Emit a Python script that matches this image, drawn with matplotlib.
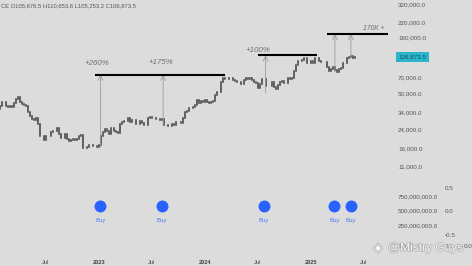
import numpy as np
import pandas as pd
import matplotlib
matplotlib.use('Agg')
import matplotlib.pyplot as plt
import matplotlib.dates as mdates
import matplotlib.patheffects as pe
from matplotlib.ticker import FixedLocator, NullLocator

plt.rcParams['font.family'] = ['Liberation Sans', 'DejaVu Sans']

W, H = 472, 266
BG = '#dcdcdc'

# weekly closes (thousand USD), weeks starting Monday 2022-01-24
close_2022 = [38.5, 42.4, 42.2, 38.4, 37.7, 38.8, 37.8, 41.3, 44.5, 46.4,
              42.2, 40.4, 39.5, 38.5, 34.0, 31.3, 29.4, 29.0, 29.9, 26.6,
              20.6, 21.0, 19.3, 20.8, 20.8, 22.6, 23.3, 23.2, 24.3, 21.5,
              20.0, 19.8, 21.8, 19.4, 18.8, 19.3, 19.4, 19.2, 19.6, 20.6,
              21.3, 16.3, 16.3, 16.5, 17.1, 17.1, 16.8, 16.8, 16.6]
close_2023 = [17.1, 20.9, 22.7, 23.8, 23.3, 21.8, 24.6, 23.2, 22.4, 22.0,
              26.9, 27.9, 28.5, 28.3, 30.3, 27.6, 29.2, 28.9, 26.8, 26.7,
              28.1, 27.1, 25.9, 26.3, 30.5, 30.6, 30.2, 30.3, 29.8, 29.3,
              29.1, 29.4, 26.1, 26.0, 25.8, 25.8, 26.5, 26.3, 28.0, 27.9,
              27.0, 30.0, 34.5, 35.0, 37.1, 37.4, 37.7, 39.5, 43.8, 41.4,
              43.0, 42.3]
close_2024 = [43.9, 41.7, 41.6, 42.0, 42.6, 48.3, 52.1, 51.7, 63.1, 68.9,
              68.4, 67.2, 69.7, 69.4, 65.7, 64.9, 63.4, 64.0, 60.8, 66.9,
              68.5, 67.8, 69.6, 66.2, 63.2, 62.7, 55.8, 60.8, 68.2, 68.3,
              58.1, 58.7, 58.4, 64.2, 57.3, 54.8, 60.0, 63.6, 65.6, 62.1,
              62.9, 69.0, 68.0, 68.7, 80.4, 89.9, 97.9, 97.5, 101.2, 104.5,
              95.2, 93.7, 98.3]
close_2025 = [94.5, 105.0, 104.8, 97.7, 96.5, 96.1, 96.3, 86.1, 80.7, 82.6,
              86.1, 82.4, 78.4, 83.7, 85.1, 93.8, 94.3, 104.6, 106.5, 109.0,
              104.6, 105.7, 106.8735]
first_open = 36.3

price_ticks = [320000, 220000, 160000, 70000, 50000, 34000, 24000, 16000, 11000]
last_price = 106873.5
header = 'CE O105,676.5 H110,653.6 L105,253.2 C106,873.5'

level_start = ['2022-12-18', '2024-07-02', '2025-02-24']
level_end = ['2024-03-10', '2025-01-21', '2025-09-23']
level_price = [74000, 110200, 171900]

gain_text = ['+260%', '+175%', '+100%', '170K +']
gain_date = ['2022-12-25', '2023-08-01', '2024-07-02', '2025-08-05']
gain_price = [92400, 94300, 123400, 190700]
gain_size = [5.7, 5.7, 5.7, 4.9]

arrow_dates = ['2023-01-06', '2023-08-10', '2024-07-28', '2025-03-24', '2025-05-18']
arrow_from = [16600, 25600, 50700, 78400, 104600]
arrow_level = [0, 0, 1, 2, 2]

buy_dates = ['2023-01-06', '2023-08-06', '2024-07-21', '2025-03-22', '2025-05-17']
buy_level = 0.12

vol_ticks = [750e6, 500e6, 250e6]
ind_ticks = [0.5, 0.0, -0.5]

xtick_dates = ['2022-07-01', '2023-01-01', '2023-07-01', '2024-01-01',
               '2024-07-01', '2025-01-01', '2025-07-01']
xtick_labels = ['Jul', '2023', 'Jul', '2024', 'Jul', '2025', 'Jul']


def box(x0, y0, x1, y1):
    return [x0 / W, 1 - y1 / H, (x1 - x0) / W, (y1 - y0) / H]


def dnum(d):
    return mdates.date2num(pd.Timestamp(d))


closes = np.array(close_2022 + close_2023 + close_2024 + close_2025) * 1000
opens = np.concatenate([[first_open * 1000], closes[:-1]])
weeks = pd.date_range('2022-01-24', periods=len(closes), freq='W-MON')
xw = mdates.date2num(weeks.to_pydatetime())

fig = plt.figure(figsize=(W / 100, H / 100), dpi=100, facecolor=BG)

ax = fig.add_axes(box(0, 0, 395, 190))
sig = fig.add_axes(box(0, 183, 395, 258), sharex=ax)
vol = sig.twinx()
ind = fig.add_axes(box(0, 183, 443, 258))

for a in (ax, sig, vol, ind):
    a.patch.set_visible(False)
    for s in a.spines.values():
        s.set_visible(False)

# price panel
ax.set_yscale('log')
ax.set_ylim(6800, 347500)
t0 = dnum('2023-01-01')
px_day = 106 / 365.25
ax.set_xlim(t0 - 99 / px_day, t0 + 296 / px_day)

lc = ax.vlines(xw, np.minimum(opens, closes), np.maximum(opens, closes),
               colors='#454545', lw=1.15)
lc.set_capstyle('projecting')

for d, p0, k in zip(arrow_dates, arrow_from, arrow_level):
    ax.annotate('', xy=(dnum(d), level_price[k]), xytext=(dnum(d), p0),
                arrowprops=dict(arrowstyle='->,head_length=0.35,head_width=0.18',
                                color='#9c9c9c', lw=0.6, shrinkA=0, shrinkB=0))

ax.hlines(level_price, [dnum(d) for d in level_start], [dnum(d) for d in level_end],
          colors='black', lw=1.5, zorder=4)

for t, d, p, s in zip(gain_text, gain_date, gain_price, gain_size):
    ax.text(dnum(d), p, t, fontsize=s, style='italic', color='#6e6e6e',
            ha='center', va='center')

ax.yaxis.tick_right()
ax.yaxis.set_major_locator(FixedLocator(price_ticks))
ax.yaxis.set_minor_locator(NullLocator())
ax.set_yticklabels([f'{v:,.1f}' for v in price_ticks])
ax.tick_params(axis='y', length=0, pad=2.2, labelsize=4.5, labelcolor='#555555')
ax.tick_params(axis='x', length=0, labelbottom=False)

ax.text(1 + 3 / 395, last_price, f'{last_price:,.1f}', transform=ax.get_yaxis_transform(),
        fontsize=4.5, color='#0f4f5c', ha='left', va='center',
        bbox=dict(boxstyle='square,pad=0.4', fc='#2bb5cc', ec='none'))

fig.text(1 / W, 1 - 6 / H, header, fontsize=4.2, color='#555555', va='center')

# signal panel
sig.set_ylim(-0.989, 0.606)
sig.set_yticks([])
bx = [dnum(d) for d in buy_dates]
sig.plot(bx, [buy_level] * len(bx), 'o', ms=8.6, color='#2962ff', mec='none')
for x in bx:
    sig.annotate('Buy', (x, buy_level), xytext=(0, -10.8), textcoords='offset points',
                 ha='center', va='center', fontsize=4.3, color='#4d79f6')

sig.xaxis.set_major_locator(FixedLocator([dnum(d) for d in xtick_dates]))
sig.set_xticklabels(xtick_labels)
for lab in sig.get_xticklabels():
    if lab.get_text().isdigit():
        lab.set_fontweight('bold')
sig.tick_params(axis='x', length=0, pad=1.5, labelsize=4.1, labelcolor='#444444')

vol.set_ylim(-319e6, 974e6)
vol.yaxis.set_major_locator(FixedLocator(vol_ticks))
vol.set_yticklabels([f'{v:,.1f}' for v in vol_ticks])
vol.tick_params(axis='y', length=0, pad=2.2, labelsize=4.5, labelcolor='#555555')

ind.set_ylim(-0.989, 0.606)
ind.set_xticks([])
ind.yaxis.tick_right()
ind.set_yticks(ind_ticks)
ind.set_yticklabels([f'{v:.1f}' for v in ind_ticks])
ind.tick_params(axis='y', length=0, pad=1.5, labelsize=4.5, labelcolor='#555555')

for x in (398, 445, 464):
    fig.text(x / W, 1 - 247 / H, '0.0', fontsize=4.5, color='#555555', va='center')

# watermark
fig.text(378 / W, 1 - 248 / H, '\u25c8', fontsize=9, color='white', alpha=0.9,
         ha='center', va='center', family='DejaVu Sans',
         path_effects=[pe.withStroke(linewidth=1, foreground='#a8a8a8')])
fig.text(388 / W, 1 - 248 / H, '@Mistry Guys', fontsize=8.6, color='white', alpha=0.9,
         va='center', path_effects=[pe.withStroke(linewidth=1, foreground='#a8a8a8')])

fig.savefig('out.png', dpi=100, facecolor=BG)
